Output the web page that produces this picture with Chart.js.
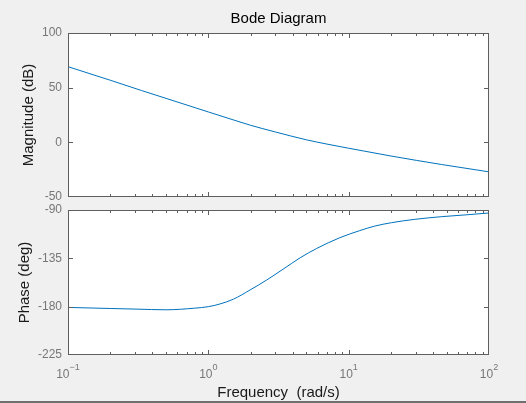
<!DOCTYPE html>
<html>
<head>
<meta charset="utf-8">
<script src="https://cdn.jsdelivr.net/npm/chart.js@4.4.1/dist/chart.umd.min.js"></script>
<style>
  html, body { margin: 0; padding: 0; background: #f0f0f0; }
  #wrap { position: relative; width: 526px; height: 403px; overflow: hidden; }
  canvas { position: absolute; left: 0; top: 0; }
  #edge { position: absolute; left: 0; top: 401px; width: 526px; height: 2px; background: #707070; }
</style>
</head>
<body>
<div id="wrap">
  <canvas id="mag" width="526" height="403"></canvas>
  <canvas id="phase" width="526" height="403"></canvas>
  <div id="edge"></div>
</div>
<script>
// values
var magFreq  = [0.1, 0.2, 0.334, 0.5, 1, 1.5, 2, 3, 5, 7, 10, 20, 46, 100];
var magDb    = [69.2, 56.8, 47.4, 40.2, 27.8, 20.6, 15.6, 9.5, 2.3, -1.6, -5.4, -12.5, -20.3, -27.0];

var phaseFreq = [0.1, 0.2, 0.31, 0.5, 0.8, 1, 1.21, 1.51, 1.98, 2.61, 3.42, 4.51, 5.92, 8.65, 12, 15.3, 20.2, 29.6, 46, 72, 100];
var phaseDeg  = [-180.7, -181.7, -182.3, -182.9, -181.4, -180.0, -177.5, -173, -164.5, -155.1, -145.0, -134.5, -125.8, -115.8, -109.2, -105, -101.8, -98.7, -96.2, -94.3, -92.8];

var decadeTicks = [0.1, 1, 10, 100];
var decadeExp   = ['\u22121', '0', '1', '2'];
var magTicks    = [-50, 0, 50, 100];
var phaseTicks  = [-225, -180, -135, -90];

var lineBlue = '#0072BD';
var axisGray = '#5e5e5e';
var tickGray = '#777777';
var labelCol = '#1a1a1a';
var fontFam  = '"Liberation Sans", Arial, Helvetica, sans-serif';

function pts(xs, ys) {
  return xs.map(function(x, i) { return {x: x, y: ys[i]}; });
}

// white plot box, inside ticks, frame and the 10^n labels
var matlabAxes = {
  id: 'matlabAxes',
  beforeDraw: function(chart) {
    var a = chart.chartArea, ctx = chart.ctx;
    ctx.save();
    ctx.fillStyle = '#ffffff';
    ctx.fillRect(a.left, a.top, a.right - a.left, a.bottom - a.top);
    ctx.restore();
  },
  afterDraw: function(chart, args, opts) {
    var ctx = chart.ctx, a = chart.chartArea;
    var xs = chart.scales.x, ys = chart.scales.y;
    ctx.save();
    ctx.strokeStyle = axisGray;
    ctx.lineWidth = 1;

    // x ticks, major on decades and minor in between, on top and bottom
    var xTickPath = new Path2D();
    for (var i = 0; i < decadeTicks.length; i++) {
      for (var m = 1; m <= 9; m++) {
        var v = decadeTicks[i] * m;
        if (v > 100.001) break;
        var px = Math.round(xs.getPixelForValue(v));
        if (px >= a.right) px = a.right - 1;
        px += 0.5;
        var len = m === 1 ? 5 : 3;
        xTickPath.moveTo(px, a.bottom);
        xTickPath.lineTo(px, a.bottom - len);
        xTickPath.moveTo(px, a.top);
        xTickPath.lineTo(px, a.top + len);
      }
    }
    ctx.stroke(xTickPath);

    // y ticks on left and right
    var yTickPath = new Path2D();
    ys.ticks.forEach(function(t) {
      var py = Math.round(ys.getPixelForValue(t.value));
      if (py >= a.bottom) py = a.bottom - 1;
      py += 0.5;
      yTickPath.moveTo(a.left, py);  yTickPath.lineTo(a.left + 5, py);
      yTickPath.moveTo(a.right, py); yTickPath.lineTo(a.right - 5, py);
    });
    ctx.stroke(yTickPath);

    ctx.strokeRect(a.left + 0.5, a.top + 0.5, a.right - a.left - 1, a.bottom - a.top - 1);

    if (opts.title) {
      ctx.fillStyle = '#000000';
      ctx.font = '15px ' + fontFam;
      ctx.textAlign = 'center';
      ctx.textBaseline = 'alphabetic';
      ctx.fillText(opts.title, (a.left + a.right) / 2, 23);
    }
    if (opts.decadeLabels) {
      ctx.fillStyle = tickGray;
      ctx.textAlign = 'left';
      ctx.textBaseline = 'alphabetic';
      decadeTicks.forEach(function(d, k) {
        var px = xs.getPixelForValue(d);
        ctx.font = '12px ' + fontFam;
        var w1 = ctx.measureText('10').width;
        ctx.font = '9px ' + fontFam;
        var w2 = ctx.measureText(decadeExp[k]).width;
        var x0 = px - (w1 + w2) / 2;
        ctx.font = '12px ' + fontFam;
        ctx.fillText('10', x0, 378);
        ctx.font = '9px ' + fontFam;
        ctx.fillText(decadeExp[k], x0 + w1, 369.5);
      });
    }
    ctx.restore();
  }
};

function makeOptions(cfg) {
  return {
    responsive: false,
    animation: false,
    layout: { padding: cfg.padding },
    plugins: {
      legend: { display: false },
      tooltip: { enabled: false },
      matlabAxes: { title: cfg.title, decadeLabels: cfg.decadeLabels }
    },
    scales: {
      x: {
        type: 'logarithmic',
        min: 0.1,
        max: 100,
        grid: { display: false, drawTicks: false },
        border: { display: false },
        ticks: { display: false },
        title: cfg.xTitle ? {
          display: true,
          text: cfg.xTitle,
          color: labelCol,
          font: { family: fontFam, size: 15 },
          padding: { top: 0, bottom: 1 }
        } : { display: false },
        afterFit: function(s) { s.height = cfg.xHeight; }
      },
      y: {
        min: cfg.yMin,
        max: cfg.yMax,
        afterBuildTicks: function(s) { s.ticks = cfg.yTicks.map(function(v) { return {value: v}; }); },
        grid: { display: false, drawTicks: false },
        border: { display: false },
        ticks: { color: tickGray, padding: 6, font: { family: fontFam, size: 12 } },
        title: {
          display: true,
          text: cfg.yTitle,
          color: labelCol,
          font: { family: fontFam, size: 15 },
          padding: { top: cfg.yTitlePad, bottom: 0 }
        },
        afterFit: function(s) { s.width = 68; }
      }
    }
  };
}

new Chart(document.getElementById('mag'), {
  type: 'line',
  data: {
    datasets: [{
      data: pts(magFreq, magDb),
      borderColor: lineBlue,
      borderWidth: 1,
      pointRadius: 0,
      cubicInterpolationMode: 'monotone'
    }]
  },
  options: makeOptions({
    padding: { top: 33, bottom: 206, left: 0, right: 37 },
    title: 'Bode Diagram',
    decadeLabels: false,
    xHeight: 0,
    yMin: -50, yMax: 100, yTicks: magTicks,
    yTitle: 'Magnitude (dB)', yTitlePad: 20
  }),
  plugins: [matlabAxes]
});

new Chart(document.getElementById('phase'), {
  type: 'line',
  data: {
    datasets: [{
      data: pts(phaseFreq, phaseDeg),
      borderColor: lineBlue,
      borderWidth: 1,
      pointRadius: 0,
      cubicInterpolationMode: 'monotone'
    }]
  },
  options: makeOptions({
    padding: { top: 210, bottom: 0, left: 0, right: 37 },
    title: null,
    decadeLabels: true,
    xHeight: 48,
    xTitle: 'Frequency  (rad/s)',
    yMin: -225, yMax: -90, yTicks: phaseTicks,
    yTitle: 'Phase (deg)', yTitlePad: 16
  }),
  plugins: [matlabAxes]
});
</script>
</body>
</html>
